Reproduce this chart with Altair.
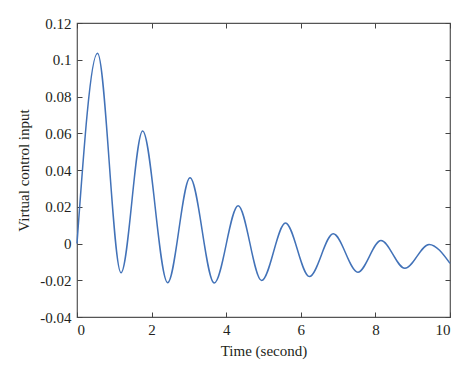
import altair as alt
import pandas as pd

# Data (extrema of the response)
time_s = [0, 0.55, 1.18, 1.76, 2.43, 3.03, 3.68, 4.32, 4.95, 5.59, 6.23,
          6.87, 7.53, 8.15, 8.79, 9.44, 10]
control = [0, 0.1035, -0.0159, 0.0612, -0.0213, 0.0358, -0.0215, 0.0206,
           -0.0202, 0.0112, -0.0180, 0.0053, -0.0156, 0.0016, -0.0135,
           -0.0005, -0.0108]
x_ticks = [0, 2, 4, 6, 8, 10]
y_ticks = [-0.04, -0.02, 0, 0.02, 0.04, 0.06, 0.08, 0.1, 0.12]

df = pd.DataFrame({"t": time_s, "u": control})

FONT = "Liberation Serif"
TXT = "#231f20"
AX = "#555555"

x_dom = [0, 10]
y_dom = [-0.04, 0.12]

y_label = ("datum.value < 0 ? '-' + format(-datum.value, '.2~f') "
           ": format(datum.value, '.2~f')")

main = alt.Chart(df).mark_line(
    interpolate="monotone", color="#4272b8", strokeWidth=1.5
).encode(
    x=alt.X("t:Q", scale=alt.Scale(domain=x_dom, nice=False, zero=False),
            axis=alt.Axis(orient="bottom", values=x_ticks, title="Time (second)",
                          offset=-5, tickSize=5, domain=False, grid=False,
                          labelPadding=5, titlePadding=6, format="d")),
    y=alt.Y("u:Q", scale=alt.Scale(domain=y_dom, nice=False, zero=False),
            axis=alt.Axis(orient="left", values=y_ticks, title="Virtual control input",
                          offset=-5, tickSize=5, domain=False, grid=False,
                          labelPadding=6, titlePadding=8, labelExpr=y_label)),
)

frame = alt.Chart(df).mark_line(
    interpolate="monotone", strokeOpacity=0
).encode(
    x=alt.X("t:Q", scale=alt.Scale(domain=x_dom, nice=False, zero=False),
            axis=alt.Axis(orient="top", values=x_ticks, title=None, labels=False,
                          offset=-5, tickSize=5, domain=False, grid=False)),
    y=alt.Y("u:Q", scale=alt.Scale(domain=y_dom, nice=False, zero=False),
            axis=alt.Axis(orient="right", values=y_ticks, title=None, labels=False,
                          offset=-5, tickSize=5, domain=False, grid=False)),
)

chart = alt.layer(main, frame).resolve_scale(
    x="independent", y="independent"
).properties(
    width=373, height=294,
    autosize=alt.AutoSizeParams(type="none"),
    padding={"left": 77, "top": 23, "right": 24, "bottom": 60},
    background="white",
).configure_view(
    stroke=AX, strokeWidth=1.2
).configure_axis(
    labelFont=FONT, titleFont=FONT, labelFontSize=15, titleFontSize=15,
    labelColor=TXT, titleColor=TXT, titleFontWeight="normal",
    tickColor="#444444", tickWidth=1,
)

chart.save("out.html", embed_options={"renderer": "svg", "actions": False})
